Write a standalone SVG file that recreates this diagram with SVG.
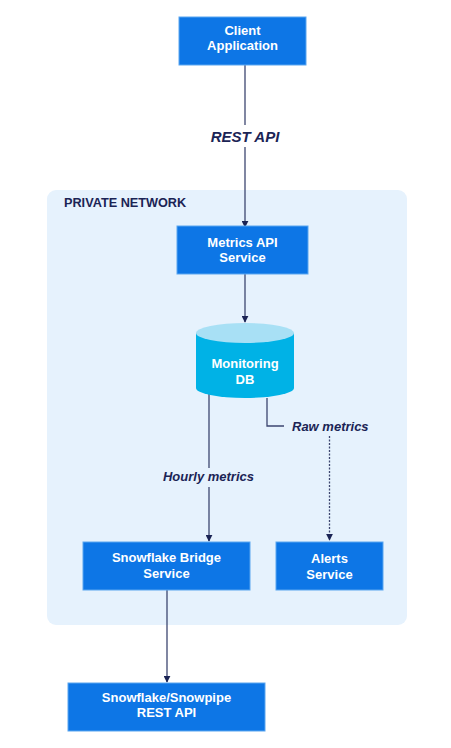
<svg xmlns="http://www.w3.org/2000/svg" width="451" height="748" viewBox="0 0 451 748">
<style>
.box{fill:#0d76e6;stroke:#5aa6f0;stroke-width:1}
.bt{font-family:"Liberation Sans",Arial,sans-serif;font-weight:bold;font-size:13px;fill:#ffffff;text-anchor:middle}
.lbl{font-family:"Liberation Sans",Arial,sans-serif;font-weight:bold;font-style:italic;font-size:13px;fill:#1b2455}
.lbl.big{font-size:15px}
.ln{fill:none;stroke:#3d4670;stroke-width:1.3}
</style>
<defs>
<marker id="ah" viewBox="0 0 10 10" refX="9" refY="5" markerWidth="7" markerHeight="7" orient="auto" markerUnits="userSpaceOnUse">
<path d="M0,0 L10,5 L0,10 z" fill="#1b2455"/>
</marker>
</defs>
<rect x="0" y="0" width="451" height="748" fill="#ffffff"/>
<g id="private-network">
<rect x="47" y="190" width="360" height="435" rx="9" fill="#e6f2fd"/>
<text x="64" y="207" font-family="Liberation Sans,Arial,sans-serif" font-weight="bold" font-size="12.7" fill="#1b2455">PRIVATE NETWORK</text>
</g>
<g id="connectors">
<path class="ln" d="M245,65 V125" />
<path class="ln" d="M245,147 V227" marker-end="url(#ah)"/>
<text class="lbl big" x="245" y="142" text-anchor="middle">REST API</text>
<path class="ln" d="M245,274 V322" marker-end="url(#ah)"/>
<path class="ln" d="M209,394 V468"/>
<path class="ln" d="M209,487 V541" marker-end="url(#ah)"/>
<text class="lbl" x="208.5" y="481" text-anchor="middle">Hourly metrics</text>
<path class="ln" d="M267,398 V426 H284" stroke-width="1"/>
<text class="lbl" x="292" y="431">Raw metrics</text>
<path class="ln" d="M329.5,436 V540" stroke-dasharray="2,1.5" marker-end="url(#ah)"/>
<path class="ln" d="M167,590 V682" marker-end="url(#ah)"/>
</g>
<g id="client-application">
<rect class="box" x="179" y="17" width="127" height="48"/>
<text class="bt" x="242.5" y="35">Client</text>
<text class="bt" x="242.5" y="50">Application</text>
</g>
<g id="metrics-api-service">
<rect class="box" x="177" y="226" width="131" height="48"/>
<text class="bt" x="242.5" y="247">Metrics API</text>
<text class="bt" x="242.5" y="262">Service</text>
</g>
<g id="monitoring-db">
<path d="M196,333 V388 A49,10 0 0 0 294,388 V333 z" fill="#00b2e6"/>
<ellipse cx="245" cy="333" rx="49" ry="10" fill="#a8e0f5"/>
<text class="bt" x="245" y="368">Monitoring</text>
<text class="bt" x="245" y="384">DB</text>
</g>
<g id="snowflake-bridge-service">
<rect class="box" x="83" y="542" width="167" height="48"/>
<text class="bt" x="166.5" y="562">Snowflake Bridge</text>
<text class="bt" x="166.5" y="578">Service</text>
</g>
<g id="alerts-service">
<rect class="box" x="276" y="542" width="107" height="48"/>
<text class="bt" x="329.5" y="563">Alerts</text>
<text class="bt" x="329.5" y="579">Service</text>
</g>
<g id="snowflake-snowpipe-rest-api">
<rect class="box" x="68" y="683" width="197" height="48"/>
<text class="bt" x="166.5" y="702">Snowflake/Snowpipe</text>
<text class="bt" x="166.5" y="717">REST API</text>
</g>
</svg>
